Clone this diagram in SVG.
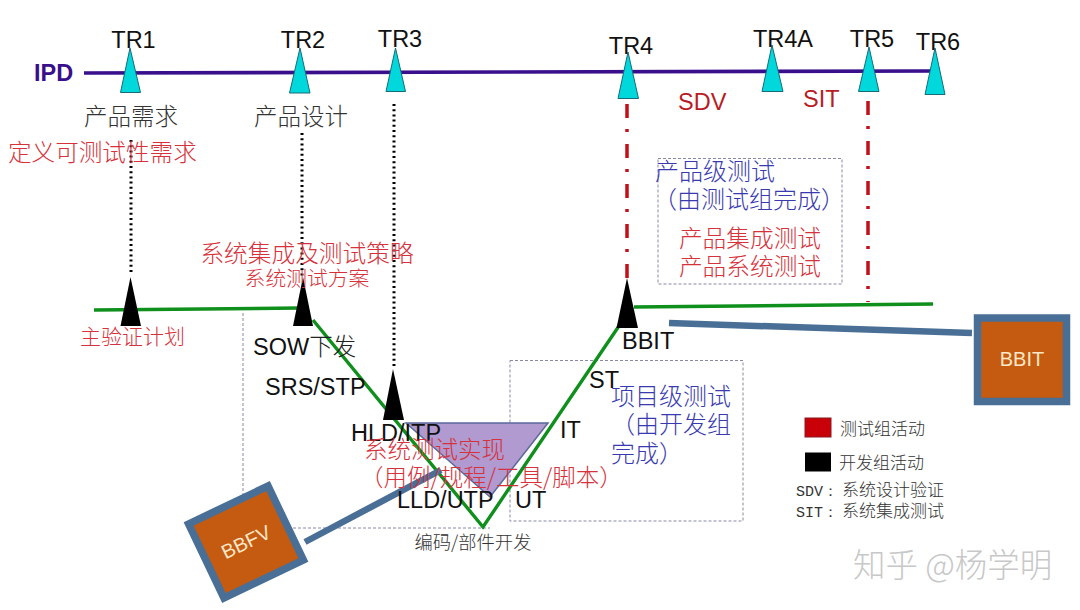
<svg xmlns="http://www.w3.org/2000/svg" width="1080" height="610" viewBox="0 0 1080 610">
<style>
.l{font-family:"Liberation Sans",Arial,sans-serif;fill:#111;font-size:23.5px}
.c{font-family:"Noto Sans CJK SC","Liberation Sans",sans-serif;font-weight:300}
.m{text-anchor:middle}
.k{fill:#333}.r{fill:#d6323c}.b{fill:#3a3ab0}
.tr{fill:#00d8dc;stroke:#1a6a78;stroke-width:1}
.dev{fill:#000}
.dot{fill:none;stroke:#000;stroke-width:3;stroke-dasharray:2 3.2}
.red{fill:none;stroke:#c01018;stroke-width:3.5;stroke-dasharray:14 11 3 12}
.box{fill:none;stroke:#8888a8;stroke-width:1;stroke-dasharray:3 2}
.g{fill:none;stroke:#0f8f1c;stroke-width:3.4}
.bl{fill:none;stroke:#4a6f96;stroke-width:6.500}
.mod{fill:#c55a11;stroke:#4a6f96;stroke-width:7.500}
.mt{font-family:"Liberation Sans",Arial,sans-serif;font-size:20px;fill:#fde8c8;text-anchor:middle}
</style>
<rect width="1080" height="610" fill="#fff"/>
<g id="regions">
<rect class="box" x="658" y="158.500" width="184" height="125.500"/>
<rect class="box" x="510" y="360.500" width="233" height="160.500"/>
<path class="box" d="M243 313V528H490"/>
<polygon id="impl" points="406,423 548,423 490,497" fill="#b09ad0" stroke="#5a6a9a" stroke-width="1.500"/>
</g>
<g id="connectors">
<line x1="84" y1="73" x2="935" y2="71" stroke="#3a0f8c" stroke-width="3.6"/>
<path class="dot" d="M131 140V273"/>
<path class="dot" d="M302 133V276"/>
<path class="dot" d="M394 104V368"/>
<path class="red" d="M627 104V283"/>
<path class="red" d="M868 101V302"/>
<path class="g" d="M94 310L300 308"/>
<path class="g" d="M634 307L933 304"/>
<path class="g" d="M313 320L483 527L623 320"/>
<path class="bl" d="M669 323L972 333"/>
<path class="bl" d="M305 542L441 470"/>
</g>
<g id="TR1"><polygon class="tr" points="130,48 120.500,92.500 140.500,92.500"/><text class="l m" x="133.500" y="48">TR1</text></g>
<g id="TR2"><polygon class="tr" points="300,48 289.500,93 310,93"/><text class="l m" x="303" y="48">TR2</text></g>
<g id="TR3"><polygon class="tr" points="395.500,48 386,91.500 405.500,91.500"/><text class="l m" x="400" y="47">TR3</text></g>
<g id="TR4"><polygon class="tr" points="628,52 618,98.500 638.500,98.500"/><text class="l m" x="631" y="54">TR4</text></g>
<g id="TR4A"><polygon class="tr" points="772,45 762,91.500 783,91.500"/><text class="l m" x="783" y="47">TR4A</text></g>
<g id="TR5"><polygon class="tr" points="869,47 858.500,91.500 879,91.500"/><text class="l m" x="872" y="47">TR5</text></g>
<g id="TR6"><polygon class="tr" points="935,48 925,94.500 945,94.500"/><text class="l m" x="938" y="50">TR6</text></g>
<g id="dev-markers">
<polygon class="dev" points="130.500,277 120.500,326 141,326"/>
<polygon class="dev" points="303,277 293,326 313,326"/>
<polygon class="dev" points="393,369 383,420 404,420"/>
<polygon class="dev" points="627,278 616.500,328 638,328"/>
</g>
<g id="labels">
<text class="l" x="34" y="81" style="font-weight:700;fill:#3a0f8c">IPD</text>
<text class="c k m" x="131" y="125" font-size="23.500">产品需求</text>
<text class="c k m" x="301" y="125" font-size="23.500">产品设计</text>
<text class="c r" x="8" y="161" font-size="23.600">定义可测试性需求</text>
<text class="c r m" x="307" y="262" font-size="23.700">系统集成及测试策略</text>
<text class="c r m" x="307" y="286" font-size="20.800">系统测试方案</text>
<text class="c r" x="80" y="344" font-size="21">主验证计划</text>
<text class="l" x="253" y="355">SOW<tspan class="c" style="fill:#222">下发</tspan></text>
<text class="l" x="265" y="395">SRS/STP</text>
<text class="l" x="351" y="441">HLD/ITP</text>
<text class="c r" x="364" y="458" font-size="23.500">系统测试实现</text>
<text class="c r" x="360" y="486" font-size="23.500">（用例/规程/工具/脚本）</text>
<text class="l" x="397" y="508">LLD/UTP</text>
<text class="l" x="515" y="508">UT</text>
<text class="l" x="560" y="438">IT</text>
<text class="l" x="589" y="388">ST</text>
<text class="l" x="622" y="349">BBIT</text>
<text class="c k m" x="473" y="549" font-size="18.300">编码/部件开发</text>
<text class="l" x="678" y="110" style="fill:#b81c24">SDV</text>
<text class="l" x="803" y="107" style="fill:#b81c24">SIT</text>
<text class="c b" x="655" y="180" font-size="24">产品级测试</text>
<text class="c b" x="653" y="208" font-size="24">（由测试组完成）</text>
<text class="c r m" x="750" y="247" font-size="23.700">产品集成测试</text>
<text class="c r m" x="750" y="275" font-size="23.700">产品系统测试</text>
<text class="c b" x="611" y="405" font-size="24">项目级测试</text>
<text class="c b" x="611" y="433" font-size="24">（由开发组</text>
<text class="c b" x="611" y="462" font-size="24">完成）</text>
</g>
<g id="BBIT"><rect class="mod" x="977.500" y="318" width="89" height="83.500"/><text class="mt" x="1022" y="366">BBIT</text></g>
<g id="BBFV" transform="rotate(-25.500 246 542)"><rect class="mod" x="202" y="501" width="88" height="82"/><text class="mt" x="246" y="549">BBFV</text></g>
<g id="legend">
<rect x="805" y="418" width="26" height="19" fill="#c80008" stroke="#8a1a20" stroke-width="1"/>
<rect x="805" y="452.500" width="26" height="19" fill="#000"/>
<text class="c k" x="840" y="435" font-size="17">测试组活动</text>
<text class="c k" x="839" y="469" font-size="17">开发组活动</text>
<text x="796" y="496" font-size="15" class="c k"><tspan font-family="Liberation Mono">SDV：</tspan><tspan x="842" font-size="17">系统设计验证</tspan></text>
<text x="796" y="517" font-size="15" class="c k"><tspan font-family="Liberation Mono">SIT：</tspan><tspan x="842" font-size="17">系统集成测试</tspan></text>
</g>
<g id="watermark"><text class="c" x="853" y="577" font-size="32.500" fill="#c8c8c8">知乎 @杨学明</text></g>
</svg>
